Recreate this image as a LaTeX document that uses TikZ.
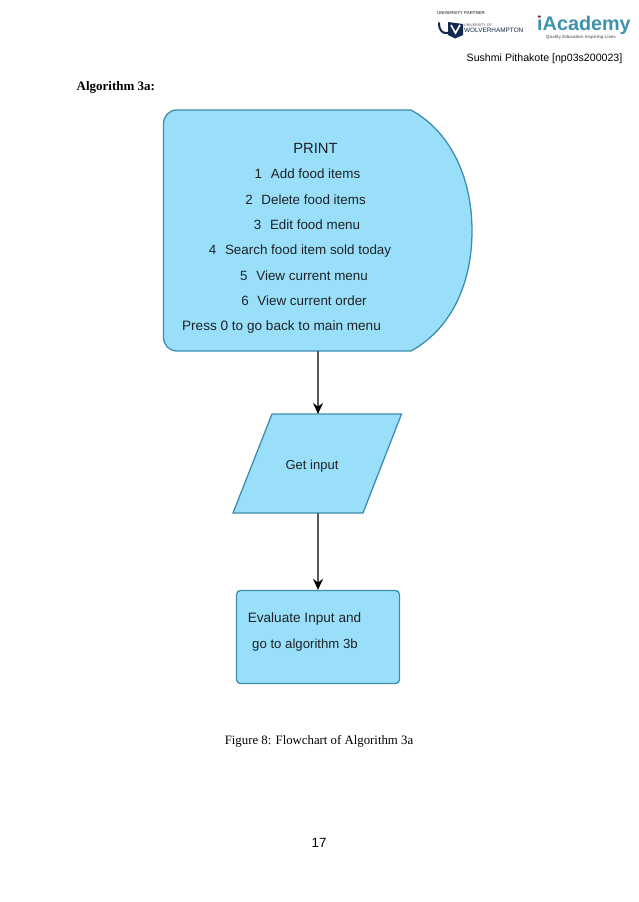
\documentclass[tikz,border=0pt]{standalone}
\usepackage{fontspec}
\setmainfont{Liberation Sans}
\newfontfamily\timesf{Liberation Serif}
\usetikzlibrary{arrows.meta,shapes.geometric}
\definecolor{flowfill}{HTML}{99DFF9}
\definecolor{flowline}{HTML}{3F8DAE}
\definecolor{txt}{HTML}{1E2226}
\definecolor{navy}{HTML}{14294F}
\definecolor{teal2}{HTML}{3E93AB}
\tikzset{
  x=1pt,y=-1pt,
  flow/.style={draw=flowline,fill=flowfill,line width=1.3pt},
  lbl/.style={font=\fontsize{13.4}{15}\selectfont,text=txt,inner sep=0pt,anchor=base},
  conn/.style={draw=black!65,line width=1.3pt,-{Stealth[length=11pt,width=10pt,color=black]}},
  serif/.style={font=\timesf\fontsize{12.8}{15}\selectfont,text=black,inner sep=0pt},
  head/.style={font=\fontsize{10.6}{12}\selectfont,text=black,inner sep=0pt},
}
\begin{document}
\begin{tikzpicture}
\useasboundingbox (0,0) rectangle (638,902);
\fill[white] (0,0) rectangle (638,902);
% header
\node[inner sep=0pt,anchor=west,font=\fontsize{4.3}{5}\selectfont\bfseries,text=black!65] (partner) at (437,13.5) {UNIVERSITY PARTNER};
\fill[navy] (448,22) -- (463,24) -- (463,35) -- (455,38.5) -- (448,35) -- cycle;
\draw[white,line width=1.6pt] (451,25) -- (455.5,33) -- (460,25);
\draw[navy,line width=2pt,line cap=round] (439,23) .. controls (439,31) and (443,34) .. (448,33);
\node[inner sep=0pt,anchor=west,font=\fontsize{3.6}{4}\selectfont,text=black!70] (uniof) at (464,25) {UNIVERSITY OF};
\node[inner sep=0pt,anchor=west,font=\fontsize{6.4}{7}\selectfont,text=navy] (wolv) at (464,30.5) {WOLVERHAMPTON};
\node[inner sep=0pt,anchor=base west,font=\fontsize{19.8}{22}\selectfont\bfseries,text=teal2] (acad) at (537,30.5) {iAcademy};
\fill[red!75!black] (539,16.5) circle (1.2);
\node[inner sep=0pt,anchor=west,font=\fontsize{4.4}{5}\selectfont\bfseries,text=black!55] (motto) at (546,37) {Quality Education Inspiring Lives};
\node[head,anchor=base east] (author) at (622.5,61.5) {Sushmi Pithakote [np03s200023]};
\node[serif,anchor=base west,font=\timesf\bfseries\fontsize{13}{15}\selectfont] (title) at (76.5,90) {Algorithm 3a:};
% display shape
\path[flow] (177,110) -- (411,110)
  .. controls (451,132) and (472,178) .. (472,231)
  .. controls (472,284) and (451,329) .. (411,351)
  -- (177,351) .. controls (169,351) and (163.5,345) .. (163.5,337)
  -- (163.5,124) .. controls (163.5,116) and (169,110) .. (177,110) -- cycle;
\coordinate (dispout) at (318,351);
\node[lbl,font=\fontsize{14.8}{16}\selectfont] (t0) at (315.5,153) {PRINT};
\node[lbl] (t1) at (307.5,178.5) {1\hspace{5pt} Add food items};
\node[lbl] (t2) at (305.5,204) {2\hspace{5pt} Delete food items};
\node[lbl] (t3) at (307,229.5) {3\hspace{5pt} Edit food menu};
\node[lbl] (t4) at (300,254.5) {4\hspace{5pt} Search food item sold today};
\node[lbl] (t5) at (304,280) {5\hspace{5pt} View current menu};
\node[lbl] (t6) at (304,305) {6\hspace{5pt} View current order};
\node[lbl,font=\fontsize{13.6}{15}\selectfont] (t7) at (281.5,330.5) {Press 0 to go back to main menu};
% input
\path[flow] (272,414) coordinate (intop) -- (401.5,414) -- (363,513) -- (233,513) -- cycle;
\coordinate (inin) at (318,414);
\coordinate (inout) at (318,513);
\node[lbl,font=\fontsize{13}{15}\selectfont] (t8) at (312,469) {Get input};
% process
\node[flow,rounded corners=4pt,inner sep=0pt,minimum width=163pt,minimum height=93pt] (proc) at (318,637) {};
\node[lbl,font=\fontsize{13.6}{15}\selectfont] (t9) at (304.5,622.5) {Evaluate Input and};
\node[lbl,font=\fontsize{13.2}{15}\selectfont] (t10) at (305,648) {go to algorithm 3b};
% connectors
\draw[conn] (dispout) -- (inin);
\draw[conn] (inout) -- (proc.north);
% caption
\node[serif,anchor=base] (cap) at (319,744) {Figure 8: Flowchart of Algorithm 3a};
\node[lbl,font=\fontsize{13.3}{15}\selectfont,text=black] (page) at (319,847) {17};
\end{tikzpicture}
\end{document}
